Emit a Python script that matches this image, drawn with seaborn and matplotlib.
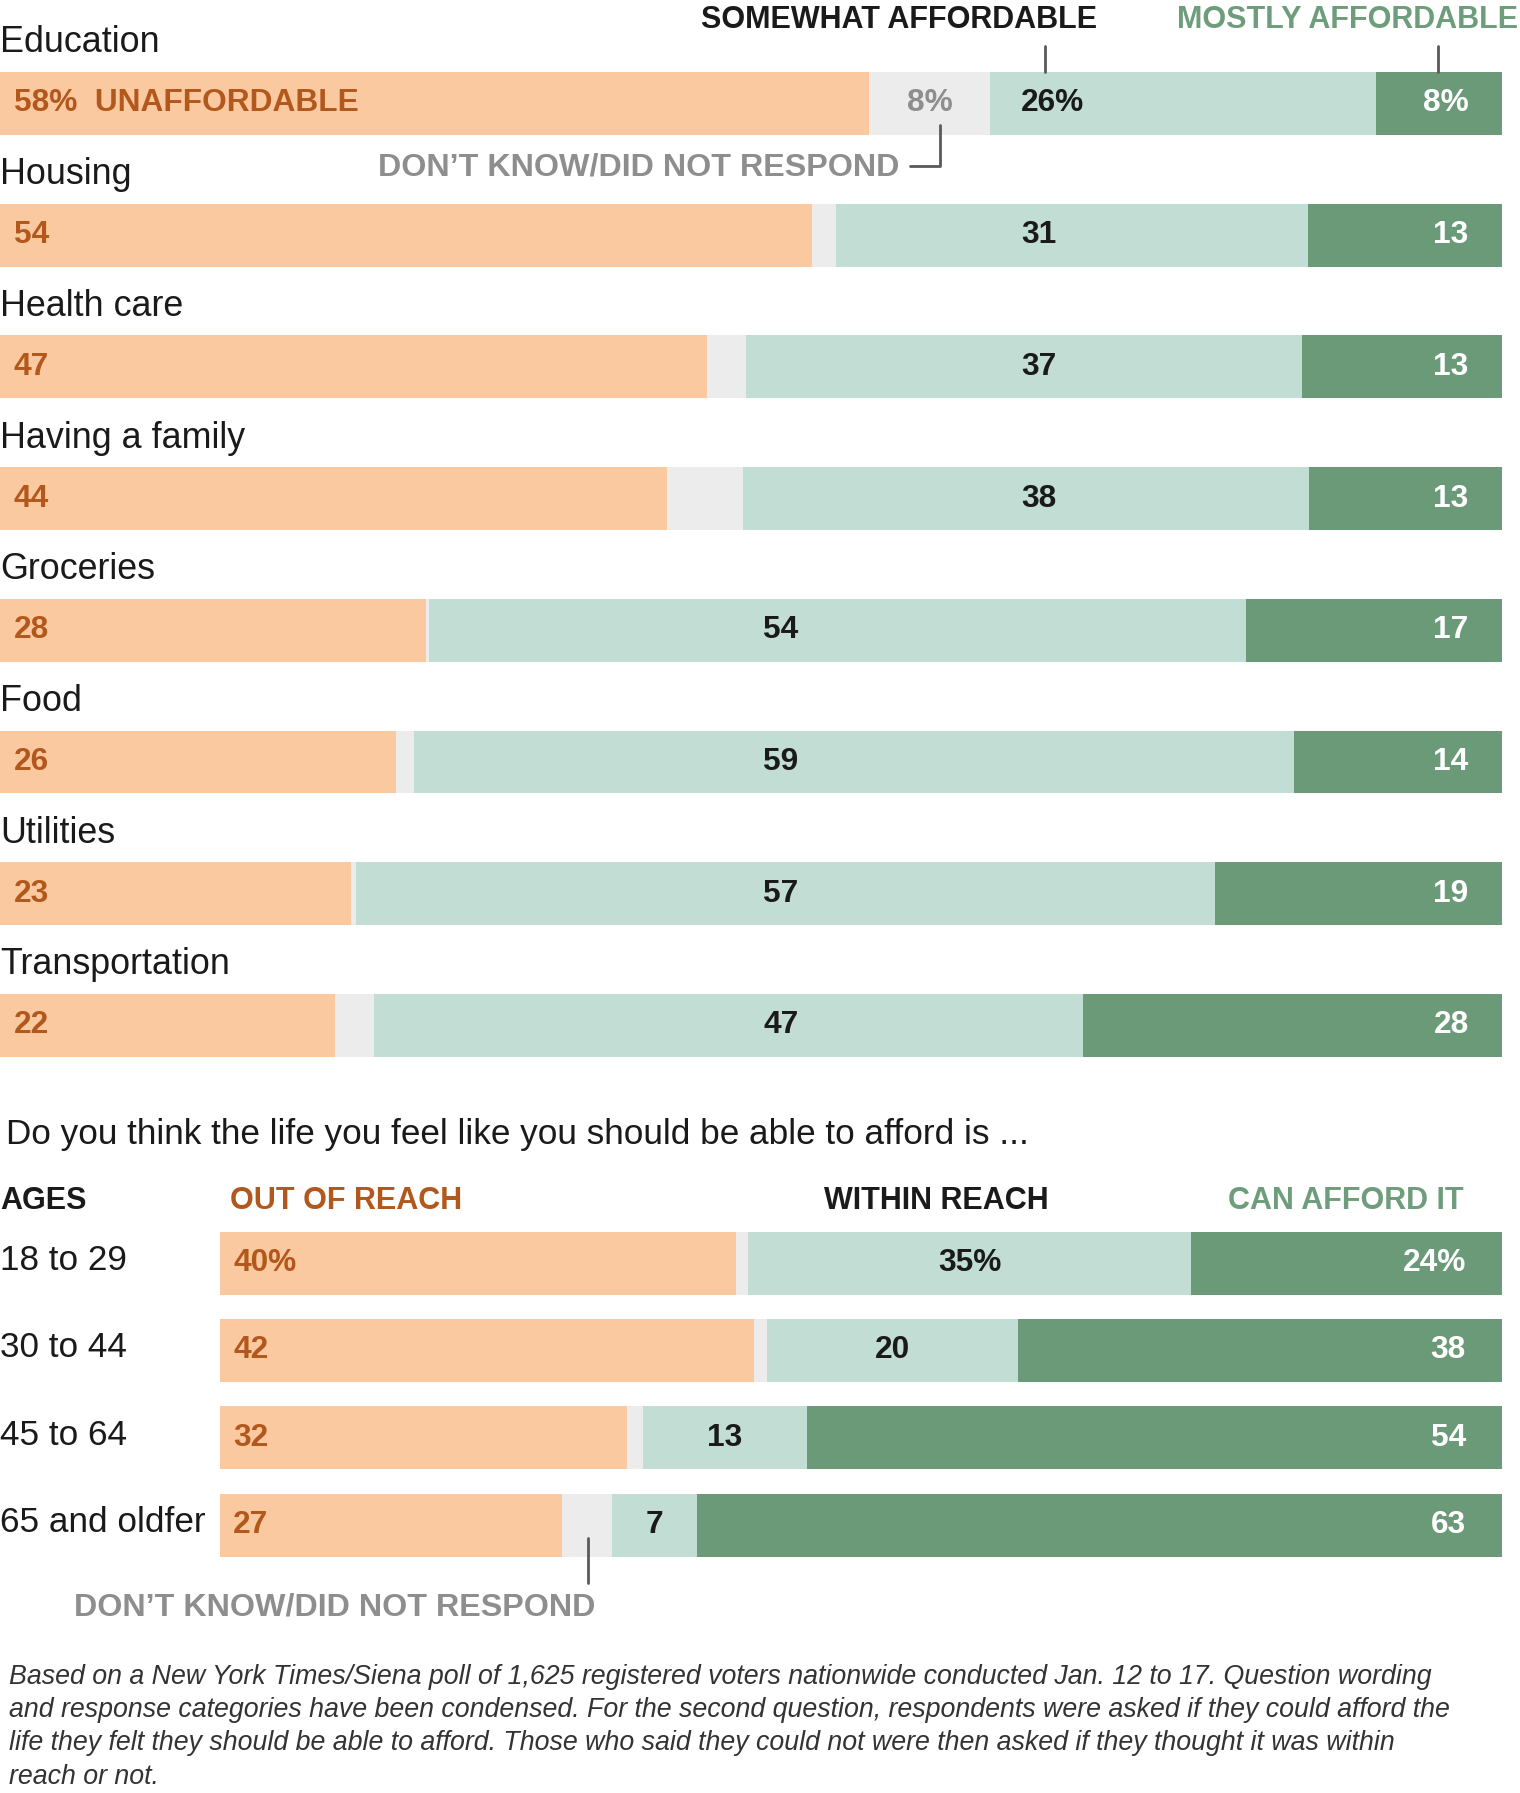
import matplotlib
matplotlib.use("Agg")
import matplotlib.pyplot as plt
from matplotlib import transforms
import numpy as np
import seaborn as sns

W, H = 1520, 1793

# --- data: cost of living by category (percent of voters) ---
top_categories = ["Education", "Housing", "Health care", "Having a family",
                  "Groceries", "Food", "Utilities", "Transportation"]
unaffordable = [57.9, 54.1, 47.1, 44.4, 28.4, 26.4, 23.4, 22.3]
dont_know = [8.0, 1.6, 2.6, 5.1, 0.2, 1.2, 0.3, 2.6]
somewhat = [25.7, 31.4, 37.0, 37.7, 54.4, 58.6, 57.2, 47.2]
mostly = [8.4, 12.9, 13.3, 12.8, 17.0, 13.8, 19.1, 27.9]

unaffordable_labels = ["58%  UNAFFORDABLE", "54", "47", "44", "28", "26", "23", "22"]
somewhat_labels = ["26%", "31", "37", "38", "54", "59", "57", "47"]
mostly_labels = ["8%", "13", "13", "13", "17", "14", "19", "28"]

# --- data: can you afford the life you should be able to ---
age_groups = ["18 to 29", "30 to 44", "45 to 64", "65 and oldfer"]
out_of_reach = [40.3, 41.7, 31.8, 26.7]
no_answer = [0.9, 1.0, 1.2, 3.9]
within_reach = [34.6, 19.6, 12.8, 6.6]
can_afford = [24.2, 37.7, 54.2, 62.8]

out_labels = ["40%", "42", "32", "27"]
within_labels = ["35%", "20", "13", "7"]
afford_labels = ["24%", "38", "54", "63"]

footnote = [
    "Based on a New York Times/Siena poll of 1,625 registered voters nationwide conducted Jan. 12 to 17. Question wording",
    "and response categories have been condensed. For the second question, respondents were asked if they could afford the",
    "life they felt they should be able to afford. Those who said they could not were then asked if they thought it was within",
    "reach or not.",
]

PEACH = "#fbc9a0"
LIGHTGREY = "#ececec"
MINT = "#c2ddd4"
GREEN = "#6b9a78"
ORANGE_TXT = "#b3581d"
GREEN_TXT = "#6e9d7b"
GREY_TXT = "#8e8e8e"
DARK = "#1a1a1a"
LINE = "#5a5a5a"

BODY = 25.3   # regular labels
BOLD = 22     # bold headers
NUM = 22.8    # numbers inside bars

sns.set_theme(style="white")
plt.rcParams["font.family"] = ["Liberation Sans", "DejaVu Sans"]

fig = plt.figure(figsize=(W / 100, H / 100), dpi=100)


def px_box(x0, y0, x1, y1):
    return [x0 / W, 1 - y1 / H, (x1 - x0) / W, (y1 - y0) / H]


def stacked(ax, cats, segments, colors, height):
    cum = np.cumsum(segments, axis=0)
    # draw from the full bar down so each layer covers the next
    for k in range(len(segments) - 1, -1, -1):
        sns.barplot(x=cum[k], y=cats, color=colors[k], orient="h", width=height,
                    saturation=1, linewidth=0, errorbar=None, ax=ax)
    ax.set_xlim(0, 100)
    ax.axis("off")
    return cum


# top chart
ax = fig.add_axes(px_box(0, 4.7, 1501.7, 1091.25))
stacked(ax, top_categories, [unaffordable, dont_know, somewhat, mostly],
        [PEACH, LIGHTGREY, MINT, GREEN], 0.478)
ax.set_ylim(7.5, -0.75)

somewhat_x = [70.1, 69.2, 69.2, 69.2, 52.0, 52.0, 52.0, 52.0]
for i, cat in enumerate(top_categories):
    ax.text(0, i - 0.46, cat, fontsize=BODY + 0.5, color=DARK, va="center", ha="left")
    ax.text(0.9, i, unaffordable_labels[i], fontsize=NUM, fontweight="bold",
            color=ORANGE_TXT, va="center", ha="left")
    ax.text(somewhat_x[i], i, somewhat_labels[i], fontsize=NUM, fontweight="bold",
            color=DARK, va="center", ha="center")
    ax.text(97.8, i, mostly_labels[i], fontsize=NUM, fontweight="bold",
            color="white", va="center", ha="right")
ax.text(unaffordable[0] + dont_know[0] / 2, 0, "8%", fontsize=NUM, fontweight="bold",
        color=GREY_TXT, va="center", ha="center")

# bottom chart
ax2 = fig.add_axes(px_box(219.6, 1219.5, 1501.7, 1568.8))
cum2 = stacked(ax2, age_groups, [out_of_reach, no_answer, within_reach, can_afford],
               [PEACH, LIGHTGREY, MINT, GREEN], 0.72)
ax2.set_ylim(3.5, -0.5)

trans = transforms.blended_transform_factory(fig.transFigure, ax2.transData)
for i, age in enumerate(age_groups):
    ax2.text(0.0, i - 0.03, age, transform=trans, fontsize=BODY, color=DARK,
             va="center", ha="left")
    ax2.text(1.07, i, out_labels[i], fontsize=NUM, fontweight="bold",
             color=ORANGE_TXT, va="center", ha="left")
    ax2.text(cum2[1][i] + within_reach[i] / 2, i, within_labels[i], fontsize=NUM,
             fontweight="bold", color=DARK, va="center", ha="center")
    ax2.text(97.2, i, afford_labels[i], fontsize=NUM, fontweight="bold",
             color="white", va="center", ha="right")

# overlay in pixel coordinates for headers, callouts, notes
ov = fig.add_axes([0, 0, 1, 1])
ov.set_xlim(0, W)
ov.set_ylim(H, 0)
ov.axis("off")

hdr = dict(fontsize=BOLD, fontweight="bold", va="center")
dk = dict(fontsize=23.2, fontweight="bold", va="center", color=GREY_TXT, ha="center")
ov.text(899, 20.5, "SOMEWHAT AFFORDABLE", color=DARK, ha="center", **hdr)
ov.text(1518, 20.5, "MOSTLY AFFORDABLE", color=GREEN_TXT, ha="right", **hdr)
ov.plot([1045, 1045], [46, 72], color=LINE, lw=2)
ov.plot([1438, 1438], [46, 72], color=LINE, lw=2)
ov.plot([910, 940, 940], [166, 166, 125], color=LINE, lw=2)
ov.text(639, 168, "DON\u2019T KNOW/DID NOT RESPOND", **dk)

ov.text(6, 1134.5, "Do you think the life you feel like you should be able to afford is ...",
        fontsize=BODY, color=DARK, va="center", ha="left")
ov.text(0, 1201, "AGES", color=DARK, ha="left", **hdr)
ov.text(230, 1201, "OUT OF REACH", color=ORANGE_TXT, ha="left", **hdr)
ov.text(823.5, 1201, "WITHIN REACH", color=DARK, ha="left", **hdr)
ov.text(1228, 1201, "CAN AFFORD IT", color=GREEN_TXT, ha="left", **hdr)

ov.plot([587.6, 587.6], [1538, 1583], color=LINE, lw=2)
ov.text(335, 1607.5, "DON\u2019T KNOW/DID NOT RESPOND", **dk)

for k, line in enumerate(footnote):
    ov.text(9, 1676.7 + 33.3 * k, line, fontsize=19.3, fontstyle="italic",
            color="#333333", va="center", ha="left")

fig.savefig("out.png", dpi=100)
